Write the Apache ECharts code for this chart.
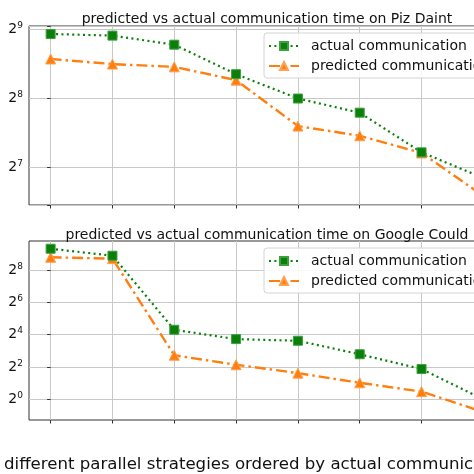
<!DOCTYPE html>
<html>
<head>
<meta charset="utf-8">
<script src="https://cdn.jsdelivr.net/npm/echarts@6/dist/echarts.min.js"></script>
<style>
  html, body { margin: 0; padding: 0; background: #fff; }
  #main { width: 474px; height: 474px; }
</style>
</head>
<body>
<div id="main"></div>
<script>
// strategies, ordered by actual communication time
const strategies = [0, 1, 2, 3, 4, 5, 6, 7];

// Piz Daint (time, log2 axis)
const pizActual = [490, 482, 440, 327, 256, 222, 149, 115];
const pizPredicted = [381, 362, 352, 308, 194, 176, 148, 96];

// Google Cloud
const gcActual = [635, 471, 19.7, 13.2, 12.3, 6.9, 3.66, 1.0];
const gcPredicted = [440, 416, 6.6, 4.4, 3.07, 2.03, 1.39, 0.58];

const gcTicks = [1, 4, 16, 64, 256];

const seriesNames = ['actual communication', 'predicted communication'];
const titles = [
  'predicted vs actual communication time on Piz Daint',
  'predicted vs actual communication time on Google Could'
];
const xLabel = 'different parallel strategies ordered by actual communication time';

const FONT = 'DejaVu Sans';
const GREEN = '#0a800a';
const ORANGE = '#ff7f0e';

function pairs(vals) {
  return strategies.map(function (s, i) { return [s, vals[i]]; });
}

function powLabel(v) {
  const l = Math.log2(v);
  const e = Math.round(l);
  if (Math.abs(l - e) > 1e-6) return '';
  return '{b|2}{e|' + e + '}';
}

const chart = echarts.init(document.getElementById('main'), null, { renderer: 'canvas' });

const gridTops = [26, 241];
const grids = gridTops.map(function (t) {
  return {
    left: 29, right: -31, top: t, height: 179,
    show: true, borderColor: '#333', borderWidth: 1,
    backgroundColor: 'transparent',
    containLabel: false, outerBoundsMode: 'none'
  };
});

const xAxes = [0, 1].map(function (i) {
  return {
    type: 'value', gridIndex: i,
    min: -0.35, max: 7.35, minInterval: 1, maxInterval: 1,
    axisLine: { show: false },
    axisTick: { show: true, inside: false, length: 3.5, lineStyle: { color: '#333', width: 1 }, customValues: strategies },
    axisLabel: { show: false },
    splitLine: { show: true, lineStyle: { color: '#c8c8c8', width: 1 } }
  };
});

const labelRich = {
  b: { fontFamily: FONT, fontSize: 14, lineHeight: 16, color: '#111' },
  e: { fontFamily: FONT, fontSize: 9, lineHeight: 9, verticalAlign: 'top', color: '#111' }
};

const yAxes = [
  {
    type: 'log', logBase: 2, gridIndex: 0,
    min: 87.7, max: 531,
    axisLine: { show: false },
    axisTick: { show: true, inside: false, length: 3.5, lineStyle: { color: '#333' } },
    axisLabel: { margin: 6, formatter: powLabel, rich: labelRich },
    splitLine: { show: true, lineStyle: { color: '#c8c8c8', width: 1 } }
  },
  {
    type: 'log', logBase: 2, gridIndex: 1,
    min: 0.412, max: 885,
    axisLine: { show: false },
    axisTick: { show: true, inside: false, length: 3.5, lineStyle: { color: '#333' }, customValues: gcTicks },
    axisLabel: { margin: 6, formatter: powLabel, rich: labelRich, customValues: gcTicks },
    splitLine: { show: true, lineStyle: { color: '#c8c8c8', width: 1 } }
  }
];

function actualSeries(data, idx) {
  return {
    name: seriesNames[0], type: 'line', xAxisIndex: idx, yAxisIndex: idx,
    data: pairs(data),
    symbol: 'rect', symbolSize: 9,
    itemStyle: { color: GREEN, borderColor: '#3f9f3f', borderWidth: 1 },
    lineStyle: { color: GREEN, width: 2.2, type: [2, 3.4], cap: 'butt' },
    z: 3, animation: false
  };
}
function predictedSeries(data, idx) {
  return {
    name: seriesNames[1], type: 'line', xAxisIndex: idx, yAxisIndex: idx,
    data: pairs(data),
    symbol: 'triangle', symbolSize: 10,
    itemStyle: { color: ORANGE, borderColor: '#ffa050', borderWidth: 1 },
    lineStyle: { color: ORANGE, width: 2.4, type: [11, 4, 2.5, 4], cap: 'butt' },
    z: 2, animation: false
  };
}

const legendBase = {
  orient: 'vertical', left: 264,
  itemWidth: 30, itemHeight: 10, itemGap: 6,
  padding: [6, 8, 5, 4],
  backgroundColor: 'rgba(255,255,255,0.85)',
  borderColor: '#d4d4d4', borderWidth: 1, borderRadius: 3,
  textStyle: { fontFamily: FONT, fontSize: 14, color: '#111', padding: [0, 0, 0, 7] },
  data: seriesNames,
  selectedMode: false
};

chart.setOption({
  animation: false,
  textStyle: { fontFamily: FONT },
  title: [
    { text: titles[0], left: 262, textAlign: 'center', top: 7,
      textStyle: { fontFamily: FONT, fontSize: 14, fontWeight: 'normal', color: '#111' } },
    { text: titles[1], left: 262, textAlign: 'center', top: 223,
      textStyle: { fontFamily: FONT, fontSize: 14, fontWeight: 'normal', color: '#111' } },
    { text: xLabel, left: -1, top: 451,
      textStyle: { fontFamily: FONT, fontSize: 16.6, fontWeight: 'normal', color: '#111' } }
  ],
  legend: [
    Object.assign({}, legendBase, { top: 33 }),
    Object.assign({}, legendBase, { top: 248 })
  ],
  grid: grids,
  xAxis: xAxes,
  yAxis: yAxes,
  series: [
    actualSeries(pizActual, 0),
    predictedSeries(pizPredicted, 0),
    actualSeries(gcActual, 1),
    predictedSeries(gcPredicted, 1)
  ]
});
</script>
</body>
</html>
